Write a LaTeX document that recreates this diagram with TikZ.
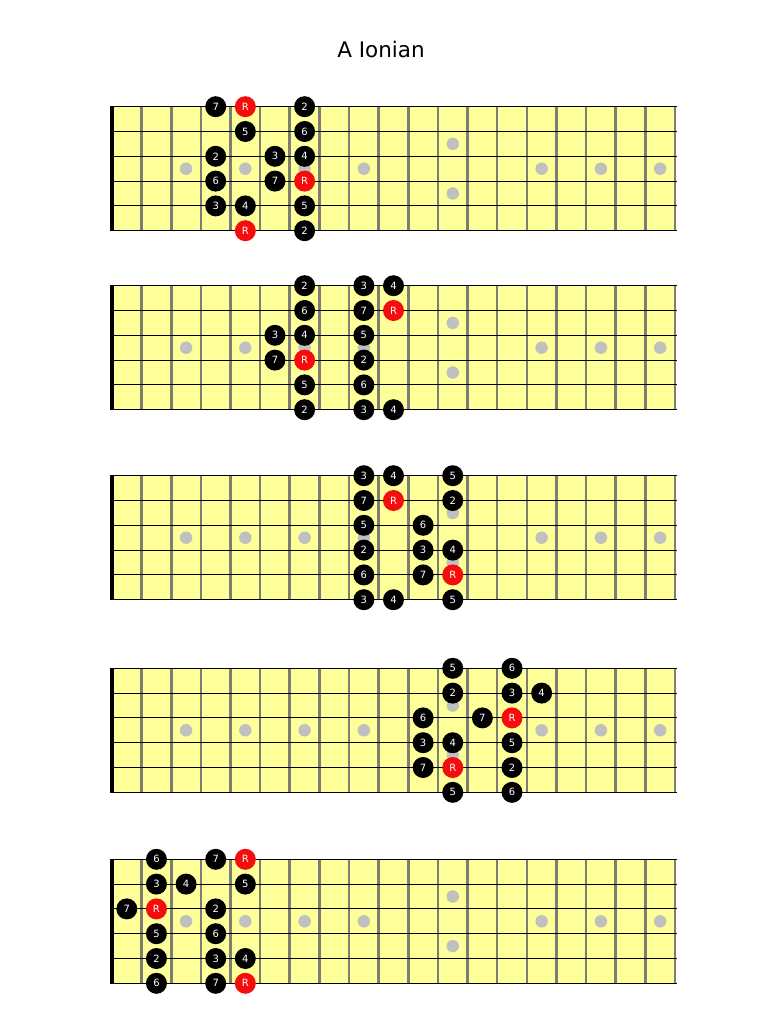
\documentclass[tikz,border=0pt]{standalone}
\usepackage{fontspec}
\setmainfont{DejaVu Sans}
\definecolor{board}{RGB}{255,255,153}
\definecolor{fretc}{RGB}{125,125,115}
\definecolor{dotc}{RGB}{192,192,192}
\definecolor{rootc}{RGB}{245,12,12}
\begin{document}
\begin{tikzpicture}[x=1pt,y=-1pt,
  note/.style={circle,minimum size=21pt,inner sep=0pt,text=white,font=\fontsize{10}{10}\selectfont},
  inlay/.style={circle,fill=dotc,minimum size=12.5pt,inner sep=0pt},
  fretline/.style={draw=fretc,line width=2.6pt},
  stringline/.style={draw=black,line width=0.9pt},
  nutline/.style={draw=black,line width=4pt},
  titletext/.style={font=\fontsize{21.5}{21.5}\selectfont}]
\useasboundingbox (0,0) rectangle (768,1024);
\node[titletext] (title) at (381,49) {A Ionian};
\foreach \d/\T in {1/106.7,2/285.7,3/475.7,4/668.3,5/859.3}{
  \fill[board] (112,\T) rectangle (675,\T+124);
  \foreach \f in {3,5,7,9,15,17,19}
    \node[inlay] (dot\d-\f) at ({112+29.63*(\f-0.5)},\T+62) {};
  \node[inlay] (dot\d-12a) at ({112+29.63*11.5},\T+37.2) {};
  \node[inlay] (dot\d-12b) at ({112+29.63*11.5},\T+86.8) {};
  \foreach \k in {1,...,19}
    \draw[fretline] ({112+29.63*\k},\T) -- ({112+29.63*\k},\T+124);
  \foreach \r in {0,...,5}
    \draw[stringline] (110,\T+\r*24.8) -- (676.5,\T+\r*24.8);
  \draw[nutline] (112,\T-0.45) -- (112,\T+124.45);
}
\foreach \d/\r/\f/\l/\c in {
1/1/4/7/black, 1/1/5/R/rootc, 1/1/7/2/black,
1/2/5/5/black, 1/2/7/6/black,
1/3/4/2/black, 1/3/6/3/black, 1/3/7/4/black,
1/4/4/6/black, 1/4/6/7/black, 1/4/7/R/rootc,
1/5/4/3/black, 1/5/5/4/black, 1/5/7/5/black,
1/6/5/R/rootc, 1/6/7/2/black,
2/1/7/2/black, 2/1/9/3/black, 2/1/10/4/black,
2/2/7/6/black, 2/2/9/7/black, 2/2/10/R/rootc,
2/3/6/3/black, 2/3/7/4/black, 2/3/9/5/black,
2/4/6/7/black, 2/4/7/R/rootc, 2/4/9/2/black,
2/5/7/5/black, 2/5/9/6/black,
2/6/7/2/black, 2/6/9/3/black, 2/6/10/4/black,
3/1/9/3/black, 3/1/10/4/black, 3/1/12/5/black,
3/2/9/7/black, 3/2/10/R/rootc, 3/2/12/2/black,
3/3/9/5/black, 3/3/11/6/black,
3/4/9/2/black, 3/4/11/3/black, 3/4/12/4/black,
3/5/9/6/black, 3/5/11/7/black, 3/5/12/R/rootc,
3/6/9/3/black, 3/6/10/4/black, 3/6/12/5/black,
4/1/12/5/black, 4/1/14/6/black,
4/2/12/2/black, 4/2/14/3/black, 4/2/15/4/black,
4/3/11/6/black, 4/3/13/7/black, 4/3/14/R/rootc,
4/4/11/3/black, 4/4/12/4/black, 4/4/14/5/black,
4/5/11/7/black, 4/5/12/R/rootc, 4/5/14/2/black,
4/6/12/5/black, 4/6/14/6/black,
5/1/2/6/black, 5/1/4/7/black, 5/1/5/R/rootc,
5/2/2/3/black, 5/2/3/4/black, 5/2/5/5/black,
5/3/1/7/black, 5/3/2/R/rootc, 5/3/4/2/black,
5/4/2/5/black, 5/4/4/6/black,
5/5/2/2/black, 5/5/4/3/black, 5/5/5/4/black,
5/6/2/6/black, 5/6/4/7/black, 5/6/5/R/rootc}{
  \pgfmathsetmacro\T{{106.7,285.7,475.7,668.3,859.3}[\d-1]}
  \node[note,fill=\c] (n\d-\r-\f) at ({112+29.63*(\f-0.5)},{\T+(\r-1)*24.8}) {\l};
}
\end{tikzpicture}
\end{document}
